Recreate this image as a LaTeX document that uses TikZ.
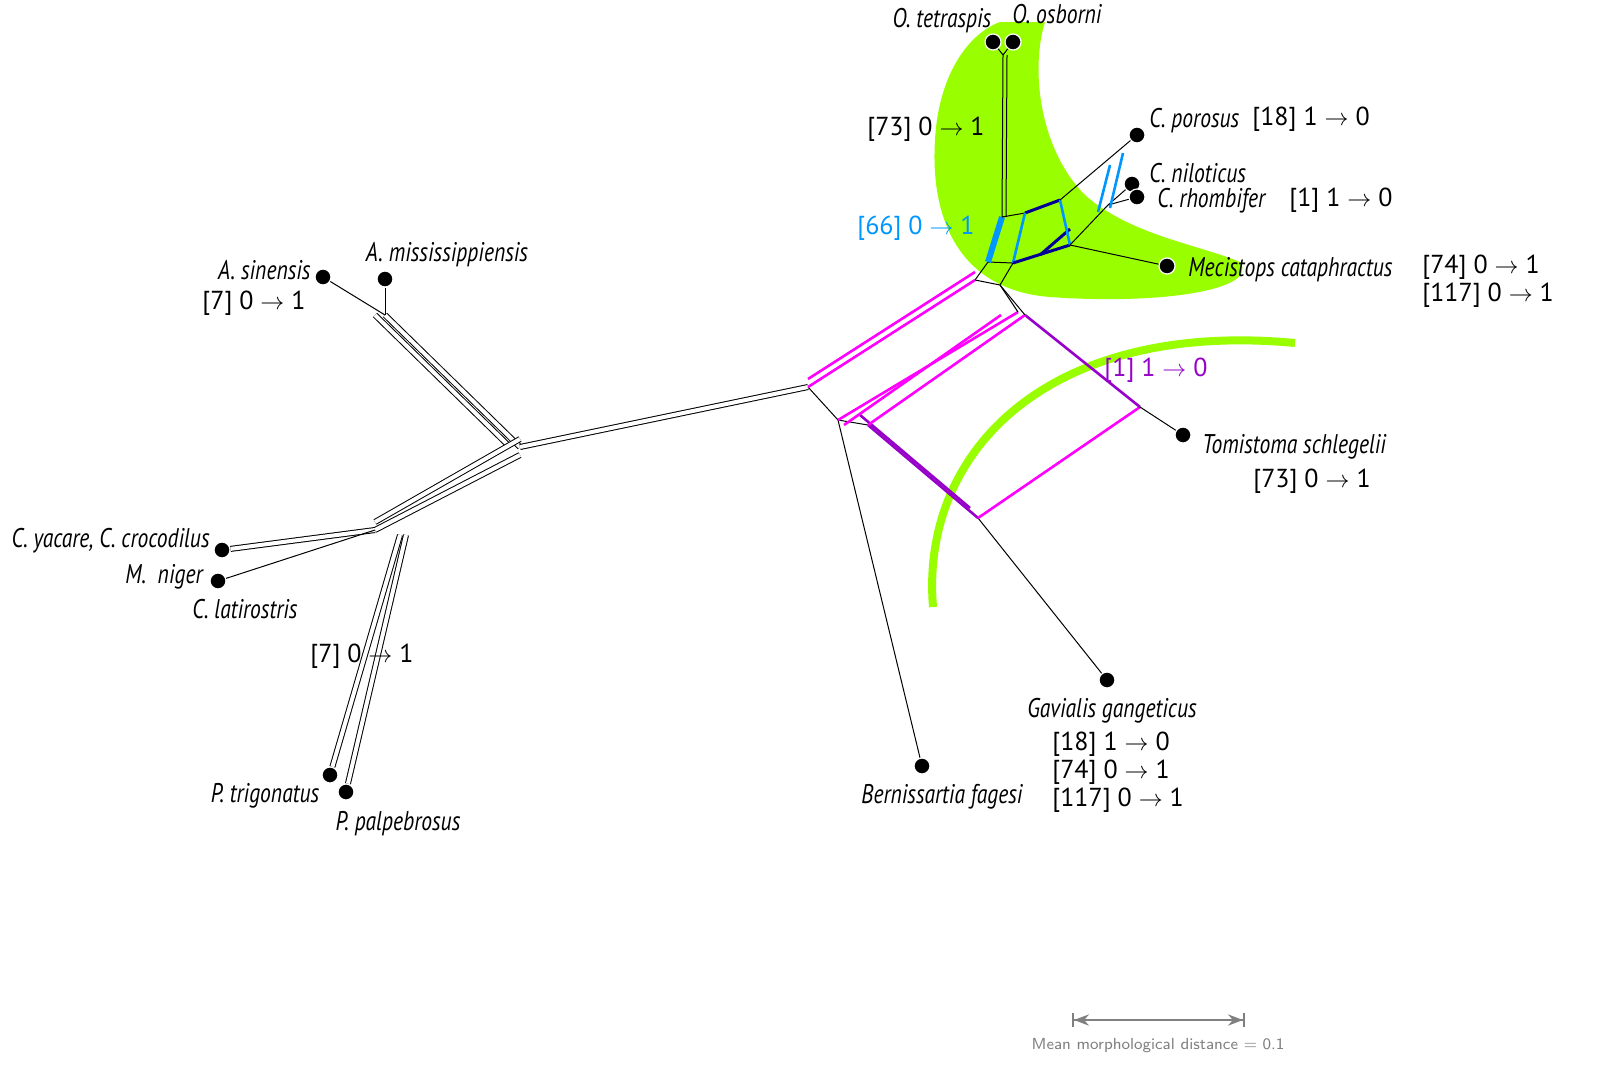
\documentclass[tikz,border=0pt]{standalone}
\usepackage{fontspec}
\setmainfont{PT Sans}
\newfontfamily\narrowit{PT Sans}[FakeStretch=0.8, UprightFont=*-Italic]
\usetikzlibrary{arrows.meta}
\definecolor{lime}{RGB}{153,255,0}
\definecolor{mag}{RGB}{255,0,255}
\definecolor{pur}{RGB}{150,0,200}
\definecolor{sky}{RGB}{0,150,255}
\definecolor{navy}{RGB}{0,0,150}
\tikzset{
  dot/.style={circle, fill=black, draw=white, line width=0.6pt, inner sep=0pt, minimum size=8pt},
  tx/.style={font=\narrowit\fontsize{13.5}{15}\selectfont, inner sep=1pt},
  ch/.style={font=\fontsize{13}{15}\selectfont, inner sep=1pt, align=left},
  e/.style={draw=black, line width=0.5pt},
  band/.style={draw=black, double=white, double distance=2pt, line width=0.5pt},
  mg/.style={draw=mag, line width=1.3pt},
  pu/.style={draw=pur, line width=1.3pt},
  bl/.style={draw=sky, line width=1.3pt},
  db/.style={draw=navy, line width=1.5pt},
}
\begin{document}
\begin{tikzpicture}[x=0.5pt, y=-0.5pt]
\useasboundingbox (0,0) rectangle (1600,1077);

% green shapes
\fill[lime] (1045,22) .. controls (1030,70) and (1040,150) .. (1085,195)
  .. controls (1130,235) and (1200,245) .. (1240,262)
  .. controls (1260,290) and (1160,305) .. (1050,297)
  .. controls (960,290) and (930,220) .. (935,140)
  .. controls (938,80) and (965,35) .. (1000,22) -- cycle;
\draw[lime, line width=4pt] (1295,343) .. controls (1050,320) and (920,450) .. (933,607);

% junctions
\coordinate (hub) at (520,447);
\coordinate (al) at (385,315);
\coordinate (lw) at (375,530);
\coordinate (pw) at (400,535);
\coordinate (ra) at (808,387);
\coordinate (rb) at (838,420);
\coordinate (rc) at (868,425);
\coordinate (gv) at (978,518);
\coordinate (tm) at (1140,407);
\coordinate (ta) at (1025,315);
\coordinate (ca) at (975,280);
\coordinate (cb) at (1000,285);
\coordinate (cc) at (1018,312);
\coordinate (cd) at (988,262);
\coordinate (ce) at (1013,263);
\coordinate (cf) at (1040,255);
\coordinate (oa) at (1002,217);
\coordinate (ob) at (1025,213);
\coordinate (oc) at (1060,200);
\coordinate (od) at (1070,245);
\coordinate (oe) at (1108,205);
\coordinate (os) at (1003,55);

% taxa
\node[dot] (asin) at (323,277) {};
\node[dot] (amis) at (385,279) {};
\node[dot] (cyac) at (222,550) {};
\node[dot] (mnig) at (218,581) {};
\node[dot] (ptri) at (330,775) {};
\node[dot] (ppal) at (346,792) {};
\node[dot] (bern) at (922,766) {};
\node[dot] (gavi) at (1107,680) {};
\node[dot] (tomi) at (1183,435) {};
\node[dot] (meci) at (1167,266) {};
\node[dot] (cpor) at (1137,135) {};
\node[dot] (cnil) at (1132,184) {};
\node[dot] (crho) at (1137,197) {};
\node[dot] (otet) at (993,42) {};
\node[dot] (oosb) at (1013,42) {};

% left part
\draw[band] (hub) -- (al);
\draw[band] ([xshift=-5pt]hub) -- ([xshift=-5pt]al);
\draw[e] (al) -- (asin);
\draw[e] (al) -- (amis);
\draw[band] (hub) -- (ra);
\draw[band] ([yshift=-4pt]hub) -- (lw);
\draw[band] ([yshift=4pt]hub) -- ([yshift=4pt]lw);
\draw[band] (lw) -- (cyac);
\draw[e] (lw) -- (mnig);
\draw[band] (pw) -- (ptri);
\draw[band] ([xshift=3pt]pw) -- (ppal);

% right part
\draw[e] (ra) -- (rb) -- (rc);
\draw[e] (rb) -- (bern);
\draw[pu] (rc) -- (gv);
\draw[pu] ([xshift=-4pt,yshift=5pt]rc) -- ([xshift=-4pt,yshift=5pt]gv);
\draw[e] (gv) -- (gavi);
\draw[mg] (gv) -- (tm);
\draw[pu] (ta) -- (tm);
\draw[e] (tm) -- (tomi);
\draw[mg] (ra) -- (ca);
\draw[mg] ([yshift=4pt]ra) -- ([yshift=4pt]ca);
\draw[mg] (rb) -- (cc);
\draw[mg] (rc) -- (ta);
\draw[mg] ([xshift=-12pt]rc) -- ([xshift=-12pt]ta);
\draw[e] (ca) -- (cb) -- (ta);
\draw[e] (cb) -- (cc);
\draw[e] (ca) -- (cd) -- (ce) -- (cb);
\draw[sky, line width=3pt] (cd) -- (oa);
\draw[e] (oa) -- (os) -- (otet);
\draw[e] (os) -- (oosb);
\draw[e] ([xshift=2pt]oa) -- ([xshift=2pt]os);
\draw[e] (oa) -- (ob);
\draw[db] (ob) -- (oc);
\draw[bl] (ob) -- (ce);
\draw[db] (ce) -- (od);
\draw[db] (cf) -- ([yshift=8pt]od);
\draw[bl] (oc) -- (od);
\draw[e] (oc) -- (cpor);
\draw[e] (od) -- (oe) -- (cnil);
\draw[e] (oe) -- (crho);
\draw[e] (od) -- (meci);
\draw[bl] (1123,153) -- (1110,208);
\draw[bl] (1110,165) -- (1098,212);

% labels
\node[tx, anchor=east] at (313,270) {A. sinensis};
\node[ch, anchor=east] at (308,303) {[7] 0 $\rightarrow$ 1};
\node[tx] at (447,255) {A. mississippiensis};
\node[tx, anchor=east] at (212,541) {C. yacare, C. crocodilus};
\node[tx, anchor=east] at (205,577) {M.\ \ niger};
\node[tx] at (245,609) {C. latirostris};
\node[ch] at (362,656) {[7] 0 $\rightarrow$ 1};
\node[tx] at (265,796) {P. trigonatus};
\node[tx] at (398,824) {P. palpebrosus};
\node[tx] at (942,797) {Bernissartia fagesi};
\node[tx] at (1112,711) {Gavialis gangeticus};
\node[ch, anchor=north west] at (1050,730) {[18] 1 $\rightarrow$ 0\\[-1pt][74] 0 $\rightarrow$ 1\\[-1pt][117] 0 $\rightarrow$ 1};
\node[tx, anchor=west] at (1200,447) {Tomistoma schlegelii};
\node[ch] at (1312,481) {[73] 0 $\rightarrow$ 1};
\node[ch, text=pur] at (1156,370) {[1] 1 $\rightarrow$ 0};
\node[tx, anchor=west] at (1186,270) {Mecistops cataphractus};
\node[ch, anchor=north west] at (1420,253) {[74] 0 $\rightarrow$ 1\\[-1pt][117] 0 $\rightarrow$ 1};
\node[tx, anchor=west] at (1155,201) {C. rhombifer};
\node[ch, anchor=west] at (1287,200) {[1] 1 $\rightarrow$ 0};
\node[tx, anchor=west] at (1147,173) {C. niloticus};
\node[tx, anchor=west] at (1147,121) {C. porosus};
\node[ch, anchor=west] at (1250,119) {[18] 1 $\rightarrow$ 0};
\node[ch, text=sky] at (916,228) {[66] 0 $\rightarrow$ 1};
\node[ch] at (926,129) {[73] 0 $\rightarrow$ 1};
\node[tx] at (942,21) {O. tetraspis};
\node[tx] at (1057,14) {O. osborni};

% scale bar
\coordinate (sa) at (1072,1020);
\coordinate (sb) at (1245,1020);
\draw[gray, line width=1pt, {Bar[]Stealth[]}-{Stealth[]Bar[]}] (sa) -- (sb);
\node[font=\sffamily\fontsize{8}{9}\selectfont, text=gray] at (1158,1046) {Mean morphological distance = 0.1};
\end{tikzpicture}
\end{document}
